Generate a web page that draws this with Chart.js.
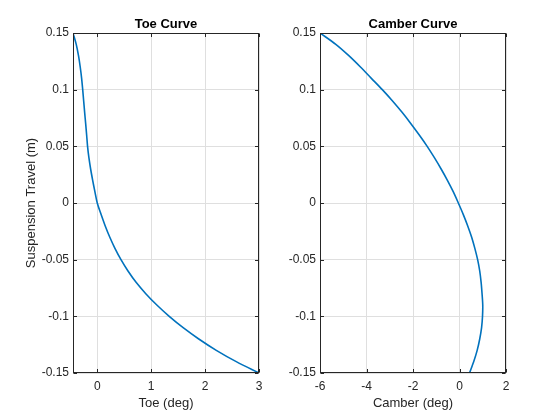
<!DOCTYPE html>
<html>
<head>
<meta charset="utf-8">
<title>Toe Curve / Camber Curve</title>
<script src="https://cdn.jsdelivr.net/npm/chart.js@4.4.1/dist/chart.umd.min.js"></script>
<style>
  html, body { margin: 0; padding: 0; background: #fff; }
  #fig { position: relative; width: 560px; height: 420px; background: #fff; }
  .ax { position: absolute; top: 0; width: 280px; height: 420px; }
</style>
</head>
<body>
<div id="fig">
  <div class="ax" style="left:0"><canvas id="chartToe" width="280" height="420"></canvas></div>
  <div class="ax" style="left:280px"><canvas id="chartCamber" width="280" height="420"></canvas></div>
</div>
<script>
// dados (curso da suspensao em m, toe e camber em graus)
const travel = [0.15, 0.14, 0.13, 0.12, 0.11, 0.10, 0.09, 0.08, 0.07, 0.06, 0.05,
                0.04, 0.03, 0.02, 0.01, 0, -0.01, -0.02, -0.03, -0.04, -0.05,
                -0.06, -0.07, -0.08, -0.09, -0.10, -0.11, -0.12, -0.13, -0.14, -0.15];
const toe = [-0.45, -0.39, -0.348, -0.316, -0.29, -0.27, -0.252, -0.234, -0.215, -0.197, -0.18,
             -0.155, -0.123, -0.085, -0.044, 0.0, 0.07, 0.146, 0.231, 0.328, 0.44,
             0.57, 0.72, 0.90, 1.105, 1.335, 1.593, 1.883, 2.208, 2.578, 3.0];
const camber = [-6.0, -5.32, -4.76, -4.26, -3.79, -3.32, -2.88, -2.47, -2.09, -1.73, -1.39,
                -1.08, -0.79, -0.52, -0.27, -0.05, 0.16, 0.35, 0.52, 0.66, 0.78,
                0.87, 0.93, 0.97, 1.0, 0.99, 0.95, 0.87, 0.76, 0.61, 0.43];

const travelTicks = [-0.15, -0.1, -0.05, 0, 0.05, 0.1, 0.15];
const toeTicks = [0, 1, 2, 3];
const camberTicks = [-6, -4, -2, 0, 2];

(function() {
    const FONTE = '"Liberation Sans", Arial, Helvetica, sans-serif';
    const COR_TXT = '#262626';
    const COR_GRADE = '#dfdfdf';
    const AZUL = '#0072BD';

    Chart.defaults.font.family = FONTE;
    Chart.defaults.color = COR_TXT;

    // 1. MOLDURA, TICKS PARA DENTRO E TITULO (estilo matlab)
    const moldura = {
        id: 'moldura',
        afterDraw(chart, args, opts) {
            const { ctx, chartArea: a, scales } = chart;
            const l = Math.round(a.left) + 0.5, r = Math.round(a.right) - 0.5;
            const t = Math.round(a.top) + 0.5, b = Math.round(a.bottom) - 0.5;
            const len = 3.5;
            ctx.save();
            ctx.strokeStyle = COR_TXT;
            ctx.lineWidth = 1;
            ctx.beginPath();
            scales.x.ticks.forEach(tk => {
                const px = Math.round(scales.x.getPixelForValue(tk.value)) + 0.5;
                ctx.moveTo(px, b); ctx.lineTo(px, b - len);
                ctx.moveTo(px, t); ctx.lineTo(px, t + len);
            });
            scales.y.ticks.forEach(tk => {
                const py = Math.round(scales.y.getPixelForValue(tk.value)) + 0.5;
                ctx.moveTo(l, py); ctx.lineTo(l + len, py);
                ctx.moveTo(r, py); ctx.lineTo(r - len, py);
            });
            ctx.stroke();
            ctx.strokeRect(l, t, r - l, b - t);

            ctx.fillStyle = '#000';
            ctx.font = 'bold 13px ' + FONTE;
            ctx.textAlign = 'center';
            ctx.textBaseline = 'alphabetic';
            ctx.fillText(opts.texto, (a.left + a.right) / 2, a.top - 5.5);
            ctx.restore();
        }
    };

    // 2. MONTA UM GRAFICO (um subplot)
    function criarGrafico(id, xs, ticksX, xMin, xMax, cfg) {
        const pontos = travel.map((tv, i) => ({ x: xs[i], y: tv }));
        return new Chart(document.getElementById(id), {
            type: 'scatter',
            data: {
                datasets: [{
                    data: pontos,
                    showLine: true,
                    borderColor: AZUL,
                    backgroundColor: AZUL,
                    borderWidth: 1.6,
                    pointRadius: 0,
                    tension: 0.3
                }]
            },
            options: {
                responsive: false,
                animation: false,
                layout: { padding: { top: 33, right: cfg.padDir, left: 0, bottom: 0 } },
                plugins: {
                    legend: { display: false },
                    tooltip: { enabled: false },
                    moldura: { texto: cfg.titulo }
                },
                scales: {
                    x: {
                        type: 'linear',
                        min: xMin, max: xMax,
                        afterBuildTicks: s => { s.ticks = ticksX.map(v => ({ value: v })); },
                        afterFit: s => { s.height = 47; },
                        grid: { color: COR_GRADE, lineWidth: 1, drawTicks: false },
                        border: { display: false },
                        ticks: { padding: 6, color: COR_TXT, font: { size: 12 }, callback: v => String(v) },
                        title: { display: true, text: cfg.rotuloX, color: COR_TXT, font: { size: 13 }, padding: { top: 0, bottom: 9 } }
                    },
                    y: {
                        type: 'linear',
                        min: -0.15, max: 0.15,
                        afterBuildTicks: s => { s.ticks = travelTicks.map(v => ({ value: v })); },
                        afterFit: s => { s.width = cfg.largY; },
                        grid: { color: COR_GRADE, lineWidth: 1, drawTicks: false },
                        border: { display: false },
                        ticks: { padding: 4, color: COR_TXT, font: { size: 12 }, callback: v => String(v) },
                        title: { display: !!cfg.rotuloY, text: cfg.rotuloY || '', color: COR_TXT, font: { size: 13 }, padding: { top: 24, bottom: 0 } }
                    }
                }
            },
            plugins: [moldura]
        });
    }

    criarGrafico('chartToe', toe, toeTicks, -0.45, 3, {
        titulo: 'Toe Curve', rotuloX: 'Toe (deg)', rotuloY: 'Suspension Travel (m)', largY: 73, padDir: 21
    });
    criarGrafico('chartCamber', camber, camberTicks, -6, 2, {
        titulo: 'Camber Curve', rotuloX: 'Camber (deg)', rotuloY: null, largY: 40, padDir: 54
    });
})();
</script>
</body>
</html>
